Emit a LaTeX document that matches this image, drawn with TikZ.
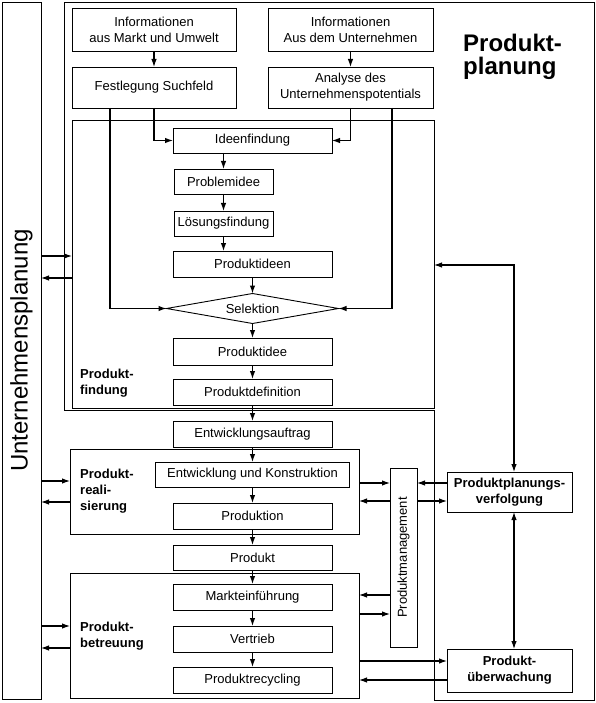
\documentclass[tikz,border=0pt]{standalone}
\usepackage{fontspec}
\setmainfont{Liberation Sans}
\usetikzlibrary{arrows.meta,positioning,shapes.geometric}

\begin{document}
\begin{tikzpicture}[x=1pt, y=-1pt, >={Latex[length=8pt,width=5.5pt]},
    font=\fontsize{13}{16}\selectfont,
    box/.style={draw, line width=0.9pt, align=center, inner sep=2pt, outer sep=0pt},
    frame/.style={draw, line width=0.9pt, inner sep=0pt, outer sep=0pt},
    titel/.style={font=\fontsize{13}{16}\selectfont\bfseries, align=left,
        anchor=west, inner sep=0pt},
    flow/.style={->, line width=1.1pt}
]
    \useasboundingbox (0,0) rectangle (595,703);

    % Produktplanung
    \draw[line width=0.9pt] (64,2) -- (594,2) -- (594,700) -- (434,700)
        -- (434,410) -- (64,410) -- cycle;
    \node[font=\fontsize{24}{23}\selectfont\bfseries,
        align=left,
        anchor=west,
        inner sep=0pt
    ]  (PlanungTitel) at (463,57) {Produkt-\\planung};

    % Unternehmensplanung
    \node[frame,
        minimum width=39pt,
        minimum height=697pt
    ]  (Unternehmen) at (21.5,350.5)
        {\rotatebox{90}{\fontsize{24}{28}\selectfont Unternehmensplanung}};

    % Rahmen
    \node[frame,
        minimum width=362pt,
        minimum height=288pt
    ]  (Findung) at (253,264) {};
    \node[frame,
        minimum width=289pt,
        minimum height=85pt
    ]  (Realisierung) at (214.5,491.5) {};
    \node[frame,
        minimum width=289pt,
        minimum height=125pt
    ]  (Betreuung) at (214.5,635.5) {};
    \node[titel] (FindungTitel) at (80,383) {Produkt-\\findung};
    \node[titel] (RealTitel) at (80,491) {Produkt-\\reali-\\sierung};
    \node[titel] (BetrTitel) at (80,636.5) {Produkt-\\betreuung};

    % Informationen
    \node[box,
        minimum width=164pt,
        minimum height=43pt
    ]  (InfoMarkt) at (154,29.5) {Informationen\\aus Markt und Umwelt};
    \node[box,
        minimum width=165pt,
        minimum height=43pt
    ]  (InfoIntern) at (350.5,29.5) {Informationen\\Aus dem Unternehmen};
    \node[box,
        minimum width=164pt,
        minimum height=41pt
    ]  (Suchfeld) at (154,87.5) {Festlegung Suchfeld};
    \node[box,
        minimum width=165pt,
        minimum height=41pt
    ]  (Analyse) at (350.5,87.5) {Analyse des\\Unternehmenspotentials};

    % Produktfindung
    \node[box,
        minimum width=159pt,
        minimum height=25pt
    ]  (Ideenfindung) at (252.5,140.5) {Ideenfindung};
    \node[box,
        minimum width=99pt,
        minimum height=25pt
    ]  (Problemidee) at (223.5,181.5) {Problemidee};
    \node[box,
        minimum width=99pt,
        minimum height=25pt,
        inner sep=1pt
    ]  (Loesungsfindung) at (223.5,223.5) {Lösungsfindung};
    \node[box,
        minimum width=159pt,
        minimum height=26pt
    ]  (Produktideen) at (252.5,264) {Produktideen};
    \node[draw,
        diamond,
        line width=0.9pt,
        inner sep=0pt,
        outer sep=0pt,
        aspect=5.7,
        minimum width=172pt,
        minimum height=30pt
    ]  (Selektion) at (252.5,308.5) {Selektion};
    \node[box,
        minimum width=159pt,
        minimum height=27pt
    ]  (Produktidee) at (252.5,351.5) {Produktidee};
    \node[box,
        minimum width=159pt,
        minimum height=26pt,
        below=14pt of Produktidee
    ]  (Produktdefinition) {Produktdefinition};
    \node[box,
        minimum width=159pt,
        minimum height=26pt,
        below=16pt of Produktdefinition
    ]  (Auftrag) {Entwicklungsauftrag};

    % Produktrealisierung
    \node[box,
        minimum width=194pt,
        minimum height=25pt,
        below=15pt of Auftrag
    ]  (Konstruktion) {Entwicklung und Konstruktion};
    \node[box,
        minimum width=159pt,
        minimum height=26pt,
        below=16pt of Konstruktion
    ]  (Produktion) {Produktion};
    \node[box,
        minimum width=159pt,
        minimum height=25pt,
        below=16pt of Produktion
    ]  (Produkt) {Produkt};

    % Produktbetreuung
    \node[box,
        minimum width=159pt,
        minimum height=26pt,
        below=14pt of Produkt
    ]  (Markteinfuehrung) {Markteinführung};
    \node[box,
        minimum width=159pt,
        minimum height=26pt,
        below=16pt of Markteinfuehrung
    ]  (Vertrieb) {Vertrieb};
    \node[box,
        minimum width=159pt,
        minimum height=26pt,
        below=15pt of Vertrieb
    ]  (Recycling) {Produktrecycling};

    % Produktmanagement und Verfolgung
    \node[box,
        minimum width=27pt,
        minimum height=179pt,
        inner sep=0pt
    ]  (Management) at (403.5,557.5) {\rotatebox{90}{Produktmanagement}};
    \node[box,
        font=\fontsize{13}{16}\selectfont\bfseries,
        minimum width=125pt,
        minimum height=40pt
    ]  (Verfolgung) at (509.5,492) {Produktplanungs-\\verfolgung};
    \node[box,
        font=\fontsize{13}{16}\selectfont\bfseries,
        minimum width=125pt,
        minimum height=43pt
    ]  (Ueberwachung) at (509.5,670.5) {Produkt-\\überwachung};

    % Hilfspunkte
    \coordinate (Rueckkopplung) at (514,265);
    \coordinate (FindungEin) at ([yshift=8pt]Findung.west);
    \coordinate (FindungAus) at ([yshift=-14pt]Findung.west);
    \coordinate (RealEin) at ([yshift=10.5pt]Realisierung.west);
    \coordinate (RealAus) at ([yshift=-10.5pt]Realisierung.west);
    \coordinate (BetrEin) at ([yshift=9.5pt]Betreuung.west);
    \coordinate (BetrAus) at ([yshift=-12.5pt]Betreuung.west);
    \coordinate (ZeileA) at ([yshift=9pt]Verfolgung.west);
    \coordinate (ZeileB) at ([yshift=-9pt]Verfolgung.west);
    \coordinate (ZeileC) at ([yshift=2pt]Markteinfuehrung.east);
    \coordinate (ZeileD) at ([yshift=-17pt]Markteinfuehrung.east);
    \coordinate (UeberEin) at ([yshift=9.5pt]Ueberwachung.west);
    \coordinate (UeberAus) at ([yshift=-9.5pt]Ueberwachung.west);

    % Pfeile oben
    \draw[flow] (InfoMarkt) -- (Suchfeld);
    \draw[flow] (InfoIntern) -- (Analyse);
    \draw[flow] (Suchfeld.south) |- (Ideenfindung.west);
    \draw[flow] ([xshift=-44pt]Suchfeld.south) |- (Selektion.west);
    \draw[flow] (Analyse.south) |- (Ideenfindung.east);
    \draw[flow] ([xshift=41.5pt]Analyse.south) |- (Selektion.east);

    % Pfeile Kette
    \draw[flow] (Problemidee.north |- Ideenfindung.south) -- (Problemidee);
    \draw[flow] (Problemidee) -- (Loesungsfindung);
    \draw[flow] (Loesungsfindung) -- (Loesungsfindung.south |- Produktideen.north);
    \draw[flow] (Produktideen) -- (Selektion);
    \draw[flow] (Selektion) -- (Produktidee);
    \draw[flow] (Produktidee) -- (Produktdefinition);
    \draw[flow] (Produktdefinition) -- (Auftrag);
    \draw[flow] (Auftrag) -- (Konstruktion);
    \draw[flow] (Konstruktion) -- (Produktion);
    \draw[flow] (Produktion) -- (Produkt);
    \draw[flow] (Produkt) -- (Markteinfuehrung);
    \draw[flow] (Markteinfuehrung) -- (Vertrieb);
    \draw[flow] (Vertrieb) -- (Recycling);

    % Pfeile links
    \draw[flow] (Unternehmen.east |- FindungEin) -- (FindungEin);
    \draw[flow] (FindungAus) -- (Unternehmen.east |- FindungAus);
    \draw[flow] (Unternehmen.east |- RealEin) -- (RealEin);
    \draw[flow] (RealAus) -- (Unternehmen.east |- RealAus);
    \draw[flow] (Unternehmen.east |- BetrEin) -- (BetrEin);
    \draw[flow] (BetrAus) -- (Unternehmen.east |- BetrAus);

    % Pfeile rechts
    \draw[flow, <->] (Findung.east |- Rueckkopplung) -- (Rueckkopplung)
        -- (Rueckkopplung |- Verfolgung.north);
    \draw[flow, <->] (Rueckkopplung |- Verfolgung.south)
        -- (Rueckkopplung |- Ueberwachung.north);
    \draw[flow] (Realisierung.east |- ZeileA) -- (Management.west |- ZeileA);
    \draw[flow] (Management.west |- ZeileB) -- (Realisierung.east |- ZeileB);
    \draw[flow] (ZeileA) -- (Management.east |- ZeileA);
    \draw[flow] (Management.east |- ZeileB) -- (ZeileB);
    \draw[flow] (Management.west |- ZeileC) -- (Betreuung.east |- ZeileC);
    \draw[flow] (Betreuung.east |- ZeileD) -- (Management.west |- ZeileD);
    \draw[flow] (Betreuung.east |- UeberEin) -- (UeberEin);
    \draw[flow] (UeberAus) -- (Betreuung.east |- UeberAus);
\end{tikzpicture}
\end{document}
